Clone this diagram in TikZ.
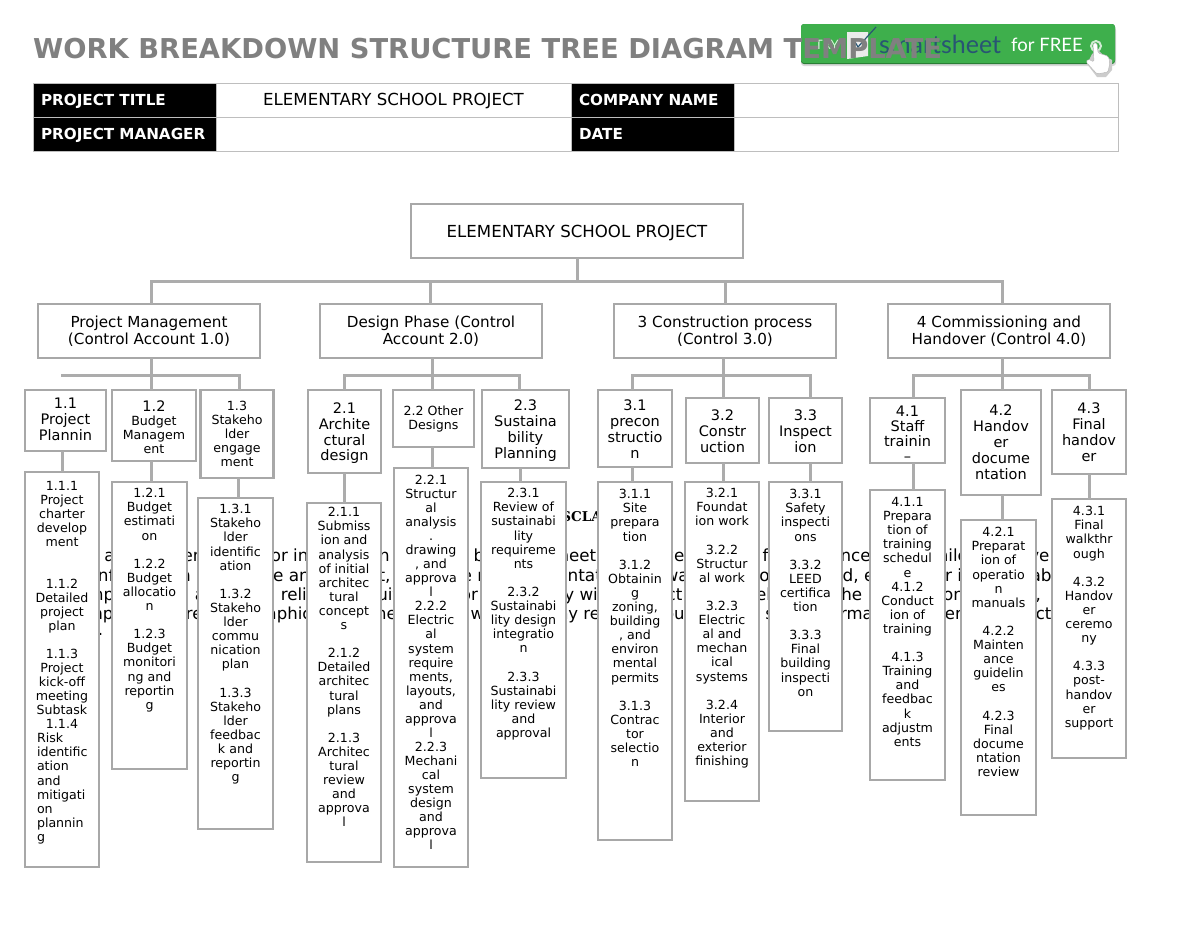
\documentclass[tikz,border=0pt]{standalone}
\usepackage{fontspec}
\setmainfont{DejaVu Sans}
\newfontfamily\serifb{DejaVu Serif}
\newfontfamily\latof{Lato}
\usetikzlibrary{calc}
\definecolor{boxgray}{RGB}{168,168,168}
\definecolor{linegray}{RGB}{172,172,172}
\definecolor{tablegray}{RGB}{190,190,190}
\definecolor{titlegray}{RGB}{128,128,128}
\definecolor{btngreen}{RGB}{62,175,76}
\definecolor{btndark}{RGB}{38,120,50}
\definecolor{navy}{RGB}{40,85,115}
\lineskiplimit=-20pt
\tikzset{
  x=1pt,y=-1pt,
  wbsbox/.style={draw=boxgray,fill=white,line width=2.6pt,inner sep=0pt,outer sep=0pt,anchor=north},
  wbsline/.style={draw=linegray,line width=3pt},
  hdrcell/.style={fill=black,draw=tablegray,line width=1pt,inner sep=0pt,outer sep=0pt,anchor=north west,text=white,text height=11pt,text depth=0pt,font=\fontsize{15.2}{17}\selectfont\bfseries},
  valcell/.style={fill=white,draw=tablegray,line width=1pt,inner sep=0pt,outer sep=0pt,anchor=north west,text height=11pt,text depth=0pt,font=\fontsize{16.6}{18}\selectfont},
  bgtext/.style={inner sep=0pt,anchor=base west,font=\fontsize{16.7}{18}\selectfont},
}
% name, centre x, top y, width, height, y of centre of first line, size, leading, text
\newcommand{\wbs}[9]{%
  \pgfmathsetlengthmacro{\wbspad}{#6-#3-0.365*#7}%
  \pgfmathsetlengthmacro{\wbswd}{#4}%
  \pgfmathsetlengthmacro{\wbsht}{#5}%
  \node[wbsbox,minimum width=#4pt,minimum height=#5pt] (#1) at (#2,#3)
   {\parbox[c][\wbsht][t]{\wbswd}{\fontsize{#7}{#8}\selectfont\vspace*{\wbspad}\centering #9\par}};}
\newcommand{\lnk}[3]{\coordinate (v#2) at (#3,0); \draw[wbsline] (#1.south -| v#2) -- (#2.north -| v#2);}
\newcommand{\wbsbig}[1]{{\fontsize{14.5}{14}\selectfont #1}}
\newcommand{\lft}[1]{\makebox[50pt][l]{#1}}
\begin{document}
\begin{tikzpicture}
\useasboundingbox (0,0) rectangle (1200,927);
\fill[white] (0,0) rectangle (1200,927);

% background disclaimer
\node[inner sep=0pt,font=\serifb\bfseries\fontsize{13.5}{15}\selectfont] (discl) at (594,517) {DISCLAIMER};
\node[bgtext] (d1) at (67,561) {Any articles, templates, or information provided by Smartsheet on the website are for reference only. While we strive};
\node[bgtext,font=\fontsize{16.9}{18}\selectfont] (d2) at (27,581) {{\fontsize{11}{12}\selectfont to keep the }information up to date and correct, we make no representations or warranties of any kind, express or implied, about};
\node[bgtext] (d3) at (35,600) {the completeness, accuracy, reliability, suitability, or availability with respect to the website or the information, articles,};
\node[bgtext,font=\fontsize{16.5}{18}\selectfont] (d4) at (70,619) {templates, or related graphics contained on the website. Any reliance you place on such information is therefore strictly {\fontsize{13}{14}\selectfont at your}};
\node[bgtext] (d5) at (28,635) {own risk.};

% button
\fill[black!15,rounded corners=3pt] (801,27) rectangle (1116,66);
\fill[btndark,rounded corners=3pt] (801,24) rectangle (1115,64);
\fill[btngreen,rounded corners=3pt] (801,24) rectangle (1115,63);
\node[inner sep=0pt,text=white!80!btngreen,font=\latof\fontsize{13}{15}\selectfont] (btry) at (827,45) {TRY};
\fill[black!8] (847,32) -- (868,32) -- (868,56) -- (847,59) -- cycle;
\draw[navy,line width=1.2pt] (855,42) -- (858,47) -- (876,27);
\node[inner sep=0pt,anchor=base west,text=navy,font=\latof\fontsize{25}{26}\selectfont] (bsm) at (879,53) {smartsheet};
\node[inner sep=0pt,anchor=base west,text=white,font=\latof\fontsize{18.5}{20}\selectfont] (bfree) at (1011,51) {for FREE};
\draw[white!75!btngreen,line width=2pt] (1096,46) circle (5);
\fill[black!20] (1092,54) -- (1098,50) -- (1104,56) -- (1112,60) -- (1112,70) -- (1106,77) -- (1097,77) -- (1087,64) -- cycle;
\draw[black!30,fill=white,line width=.4pt,rounded corners=1.5pt] (1093,43) -- (1097,43) -- (1098,53) -- (1108,56) -- (1110,62) -- (1108,72) -- (1097,74) -- (1086,62) -- (1088,59) -- (1094,62) -- cycle;

% title
\node[inner sep=0pt,anchor=base west,text=titlegray,font=\bfseries\fontsize{27.35}{30}\selectfont] (title) at (33,58) {WORK BREAKDOWN STRUCTURE TREE DIAGRAM TEMPLATE};

% table
\node[hdrcell,minimum width=183pt,minimum height=34pt,text width=175pt,align=left] (t1) at (33,83) {\hspace*{4pt}PROJECT TITLE};
\node[valcell,minimum width=355pt,minimum height=34pt,align=center] (t2) at (216,83) {ELEMENTARY SCHOOL PROJECT};
\node[hdrcell,minimum width=163pt,minimum height=34pt,text width=155pt,align=left] (t3) at (571,83) {\hspace*{4pt}COMPANY NAME};
\node[valcell,minimum width=384pt,minimum height=34pt] (t4) at (734,83) {};
\node[hdrcell,minimum width=183pt,minimum height=34pt,text width=175pt,align=left] (t5) at (33,117) {\hspace*{4pt}PROJECT MANAGER};
\node[valcell,minimum width=355pt,minimum height=34pt] (t6) at (216,117) {};
\node[hdrcell,minimum width=163pt,minimum height=34pt,text width=155pt,align=left] (t7) at (571,117) {\hspace*{4pt}DATE};
\node[valcell,minimum width=384pt,minimum height=34pt] (t8) at (734,117) {};

% root and control accounts
\wbs{root}{577}{204}{332}{54}{231}{16.6}{18}{ELEMENTARY SCHOOL PROJECT}
\wbs{a}{149}{304}{222}{54}{321}{15.2}{17.4}{Project Management\\(Control Account 1.0)}
\wbs{b}{431}{304}{222}{54}{321}{15.2}{17.4}{Design Phase (Control\\Account 2.0)}
\wbs{c}{725}{304}{222}{54}{321}{15.2}{17.4}{3 Construction process\\(Control 3.0)}
\wbs{d}{999}{304}{222}{54}{321}{15.2}{17.4}{4 Commissioning and\\Handover (Control 4.0)}

% work packages
\wbs{p11}{65.5}{390}{81}{61}{403}{14.5}{16}{1.1\\Project\\Plannin}
\wbs{p12}{154}{390}{84}{71}{405}{12.6}{14}{\wbsbig{1.2}\\Budget\\Managem\\ent}
\wbs{p13}{237}{390}{73.5}{88}{406}{12.6}{14}{1.3\\Stakeho\\lder\\engage\\ment}
\wbs{p21}{344.5}{390}{73}{83}{408}{14.5}{15.8}{2.1\\Archite\\ctural\\design}
\wbs{p22}{433.5}{390}{81}{57}{411}{12.6}{14}{2.2 Other\\Designs}
\wbs{p23}{525.5}{390}{87}{78}{405}{14.5}{16}{2.3\\Sustaina\\bility\\Planning}
\wbs{p31}{635}{390}{74}{77}{405}{14.5}{16}{3.1\\precon\\structio\\n}
\wbs{p32}{722.5}{398}{73}{65}{415}{14.5}{16}{3.2\\Constr\\uction}
\wbs{p33}{805.5}{398}{73}{65}{415}{14.5}{16}{3.3\\Inspect\\ion}
\wbs{p41}{907.5}{398}{75}{65}{411}{14.5}{15.2}{4.1\\Staff\\trainin\\--}
\wbs{p42}{1001}{390}{80}{105}{410}{14.5}{16}{4.2\\Handov\\er\\docume\\ntation}
\wbs{p43}{1089}{390}{74}{84}{408}{14.5}{16}{4.3\\Final\\handov\\er}

% tasks
\wbs{c11}{62}{472}{74}{395}{486}{12.6}{14.02}{1.1.1\\Project\\charter\\develop\\ment\\~\\~\\1.1.2\\Detailed\\project\\plan\\~\\1.1.3\\Project\\kick-off\\meeting\\Subtask\\1.1.4\\\lft{Risk}\\\lft{identific}\\\lft{ation}\\\lft{and}\\\lft{mitigati}\\\lft{on}\\\lft{plannin}\\\lft{g}}
\wbs{c12}{149.5}{482}{75}{287}{493}{12.6}{14.1}{1.2.1\\Budget\\estimati\\on\\~\\1.2.2\\Budget\\allocatio\\n\\~\\1.2.3\\Budget\\monitori\\ng and\\reportin\\g}
\wbs{c13}{235.5}{498}{75}{331}{509}{12.6}{14.1}{1.3.1\\Stakeho\\lder\\identific\\ation\\~\\1.3.2\\Stakeho\\lder\\commu\\nication\\plan\\~\\1.3.3\\Stakeho\\lder\\feedbac\\k and\\reportin\\g}
\wbs{c21}{344}{503}{74}{359}{512}{12.6}{14.1}{2.1.1\\Submiss\\ion and\\analysis\\of initial\\architec\\tural\\concept\\s\\~\\2.1.2\\Detailed\\architec\\tural\\plans\\~\\2.1.3\\Architec\\tural\\review\\and\\approva\\l}
\wbs{c22}{431}{468}{74}{399}{480}{12.6}{14.02}{2.2.1\\Structur\\al\\analysis\\.\\drawing\\, and\\approva\\l\\2.2.2\\Electric\\al\\system\\require\\ments,\\layouts,\\and\\approva\\l\\2.2.3\\Mechani\\cal\\system\\design\\and\\approva\\l}
\wbs{c23}{523.5}{482}{85}{296}{493}{12.6}{14.1}{2.3.1\\Review of\\sustainabi\\lity\\requireme\\nts\\~\\2.3.2\\Sustainabi\\lity design\\integratio\\n\\~\\2.3.3\\Sustainabi\\lity review\\and\\approval}
\wbs{c31}{635}{482}{74}{358}{494}{12.6}{14.1}{3.1.1\\Site\\prepara\\tion\\~\\3.1.2\\Obtainin\\g\\zoning,\\building\\, and\\environ\\mental\\permits\\~\\3.1.3\\Contrac\\tor\\selectio\\n}
\wbs{c32}{722}{482}{74}{319}{493}{12.6}{14.1}{3.2.1\\Foundat\\ion work\\~\\3.2.2\\Structur\\al work\\~\\3.2.3\\Electric\\al and\\mechan\\ical\\systems\\~\\3.2.4\\Interior\\and\\exterior\\finishing}
\wbs{c33}{805.5}{482}{73}{249}{494}{12.6}{14.1}{3.3.1\\Safety\\inspecti\\ons\\~\\3.3.2\\LEED\\certifica\\tion\\~\\3.3.3\\Final\\building\\inspecti\\on}
\wbs{c41}{907.5}{490}{75}{290}{502}{12.6}{14.1}{4.1.1\\Prepara\\tion of\\training\\schedul\\e\\4.1.2\\Conduct\\ion of\\training\\~\\4.1.3\\Training\\and\\feedbac\\k\\adjustm\\ents}
\wbs{c42}{998.5}{520}{75}{295}{532}{12.6}{14.1}{4.2.1\\Preparat\\ion of\\operatio\\n\\manuals\\~\\4.2.2\\Mainten\\ance\\guidelin\\es\\~\\4.2.3\\Final\\docume\\ntation\\review}
\wbs{c43}{1089}{499}{74}{259}{511}{12.6}{14.1}{4.3.1\\Final\\walkthr\\ough\\~\\4.3.2\\Handov\\er\\ceremo\\ny\\~\\4.3.3\\post-\\handov\\er\\support}

% connectors: root
\coordinate (r1) at (151,281); \coordinate (r2) at (430,281); \coordinate (r3) at (725,281); \coordinate (r4) at (1002,281);
\draw[wbsline] (root.south) -- (root.south |- r1);
\draw[wbsline] (r1 |- a.north) -- (r1) -- (r4) -- (r4 |- d.north);
\draw[wbsline] (r2) -- (r2 |- b.north);
\draw[wbsline] (r3) -- (r3 |- c.north);

% connectors: group 1
\coordinate (g1a) at (61,375); \coordinate (g1b) at (151,375); \coordinate (g1c) at (239,375);
\draw[wbsline] (g1b |- a.south) -- (g1b |- p12.north);
\draw[wbsline] (g1a) -- (g1c) -- (g1c |- p13.north);
% group 2
\coordinate (g2a) at (344,375); \coordinate (g2b) at (432,375); \coordinate (g2c) at (519,375);
\draw[wbsline] (g2b |- b.south) -- (g2b |- p22.north);
\draw[wbsline] (g2a |- p21.north) -- (g2a) -- (g2c) -- (g2c |- p23.north);
% group 3
\coordinate (g3a) at (632,375); \coordinate (g3b) at (723,375); \coordinate (g3c) at (810,375);
\draw[wbsline] (g3b |- c.south) -- (g3b |- p32.north);
\draw[wbsline] (g3a |- p31.north) -- (g3a) -- (g3c) -- (g3c |- p33.north);
% group 4
\coordinate (g4a) at (913,375); \coordinate (g4b) at (1002,375); \coordinate (g4c) at (1089,375);
\draw[wbsline] (g4b |- d.south) -- (g4b |- p42.north);
\draw[wbsline] (g4a |- p41.north) -- (g4a) -- (g4c) -- (g4c |- p43.north);

% connectors: to tasks
\lnk{p11}{c11}{62}
\lnk{p12}{c12}{151}
\lnk{p13}{c13}{238}
\lnk{p21}{c21}{344}
\lnk{p22}{c22}{432}
\lnk{p23}{c23}{520}
\lnk{p31}{c31}{632}
\lnk{p32}{c32}{723}
\lnk{p33}{c33}{810}
\lnk{p41}{c41}{913}
\lnk{p42}{c42}{1002}
\lnk{p43}{c43}{1089}
\end{tikzpicture}
\end{document}
